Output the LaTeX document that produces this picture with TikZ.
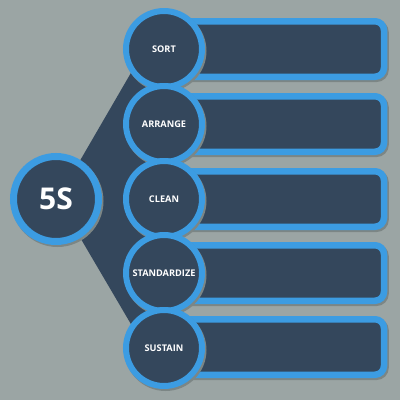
\documentclass[tikz,border=0pt]{standalone}
\usepackage{fontspec}
\setmainfont{Open Sans}
\usetikzlibrary{backgrounds}
\definecolor{bggray}{HTML}{9BA5A4}
\definecolor{navy}{HTML}{34475C}
\definecolor{ringblue}{HTML}{3C9CE2}
\definecolor{shade}{HTML}{7C8685}
\tikzset{
  bar/.style={rectangle, draw=ringblue, fill=navy, line width=6.5pt,
    rounded corners=9pt, minimum width=204pt, minimum height=55.5pt, inner sep=0pt,
    preaction={draw=shade, transform canvas={shift={(1.5pt,-2pt)}}}},
  ring/.style={circle, draw=ringblue, fill=navy, line width=6pt,
    minimum size=76pt, inner sep=0pt, text=white,
    font=\bfseries\fontsize{9.2}{11}\selectfont,
    preaction={draw=shade, fill=shade, transform canvas={shift={(1.5pt,-2pt)}}}},
}
\begin{document}
\begin{tikzpicture}[x=1pt,y=-1pt]
\useasboundingbox (0,0) rectangle (400,400);
% bars behind the circles
\node[bar] (bar1) at (282,49) {};
\node[bar] (bar2) at (282,124) {};
\node[bar] (bar3) at (282,199) {};
\node[bar] (bar4) at (282,273) {};
\node[bar] (bar5) at (282,347) {};
% the five steps
\node[ring] (sort) at (164,49) {SORT};
\node[ring] (arrange) at (164,124) {ARRANGE};
\node[ring] (clean) at (164,199) {CLEAN};
\node[ring] (standardize) at (164,273) {STANDARDIZE};
\node[ring] (sustain) at (164,348) {SUSTAIN};
% hub
\node[ring, line width=7pt, minimum size=85pt, font=\bfseries\fontsize{30}{32}\selectfont]
  (five) at (56,199) {5S};
\begin{scope}[on background layer]
\fill[bggray] (0,0) rectangle (400,400);
\fill[navy] (five.58) -- (sort.216) -- (sort.center) -- (sustain.center)
  -- (sustain.144) -- (five.-58) -- (five.center) -- cycle;
\end{scope}
\end{tikzpicture}
\end{document}
